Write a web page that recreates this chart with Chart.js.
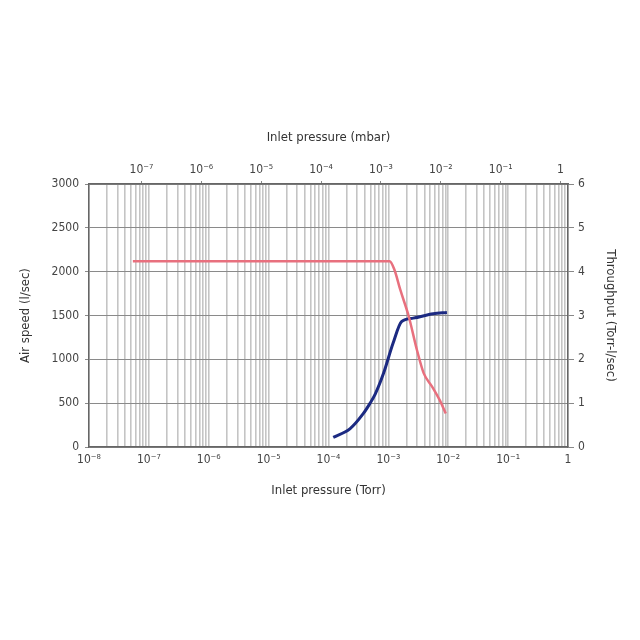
<!DOCTYPE html>
<html>
<head>
<meta charset="utf-8">
<script src="https://cdn.jsdelivr.net/npm/chart.js@4/dist/chart.umd.min.js"></script>
<style>
  html, body { margin: 0; padding: 0; background: #fff; }
  #wrap { width: 640px; height: 640px; }
</style>
</head>
<body>
<div id="wrap"><canvas id="chart" width="640" height="640"></canvas></div>
<script>
// Air speed curve (left axis), inlet pressure in Torr
const speedTorr = [5.4e-8, 1.05e-3, 1.25e-3, 1.58e-3, 2.19e-3, 3.0e-3, 3.9e-3, 5.4e-3, 7.2e-3, 9.1e-3];
const speedLs = [2120, 2120, 2030, 1794, 1489, 1107, 840, 687, 535, 382];

// Throughput curve (right axis)
const throughputTorr = [1.2e-4, 2.3e-4, 3.8e-4, 4.9e-4, 6.0e-4, 8.3e-4, 1.2e-3, 1.66e-3, 2.6e-3, 5.6e-3, 9.5e-3];
const throughput = [0.22, 0.42, 0.76, 0.99, 1.2, 1.68, 2.37, 2.86, 2.94, 3.04, 3.07];

// axis ranges / ticks
const torrDecades = [-8, -7, -6, -5, -4, -3, -2, -1, 0];
const mbarDecades = [-7, -6, -5, -4, -3, -2, -1, 0];
const mbarPerTorr = 1.333;
const speedTicks = [0, 500, 1000, 1500, 2000, 2500, 3000];
const throughputTicks = [0, 1, 2, 3, 4, 5, 6];

const FONT = '"Liberation Sans Narrow", "DejaVu Sans Condensed", Arial, sans-serif';
const SUP = { '-': '⁻', '0': '⁰', '1': '¹', '2': '²', '3': '³', '4': '⁴', '5': '⁵', '6': '⁶', '7': '⁷', '8': '⁸', '9': '⁹' };

function powLabel(e) {
  if (e === 0) return '1';
  return '10' + String(e).split('').map(c => SUP[c]).join('');
}

function isDecade(v) {
  const l = Math.log10(v);
  return Math.abs(l - Math.round(l)) < 1e-6;
}

// all 1..9 x 10^n positions for the grid
const minorTicks = [];
torrDecades.forEach(e => {
  for (let m = 1; m <= 9; m++) {
    if (e === 0 && m > 1) break;
    minorTicks.push(m * Math.pow(10, e));
  }
});

const ctx = document.getElementById('chart').getContext('2d');
new Chart(ctx, {
  type: 'line',
  data: {
    datasets: [
      {
        label: 'Air speed',
        data: speedTorr.map((p, i) => ({ x: p, y: speedLs[i] })),
        xAxisID: 'x',
        yAxisID: 'y',
        borderColor: '#e8707e',
        borderWidth: 2.5,
        pointRadius: 0,
        cubicInterpolationMode: 'monotone'
      },
      {
        label: 'Throughput',
        data: throughputTorr.map((p, i) => ({ x: p, y: throughput[i] })),
        xAxisID: 'x',
        yAxisID: 'y2',
        borderColor: '#1c2a82',
        borderWidth: 3,
        pointRadius: 0,
        cubicInterpolationMode: 'monotone'
      }
    ]
  },
  options: {
    responsive: false,
    animation: false,
    devicePixelRatio: 1,
    layout: { padding: { left: 18, right: 16, top: 130, bottom: 142 } },
    plugins: { legend: { display: false }, tooltip: { enabled: false } },
    scales: {
      x: {
        type: 'logarithmic',
        position: 'bottom',
        min: 1e-8,
        max: 1,
        afterBuildTicks: s => { s.ticks = minorTicks.map(v => ({ value: v })); },
        afterFit: s => { s.height = 51; },
        ticks: {
          autoSkip: false,
          maxRotation: 0,
          color: '#444',
          font: { family: FONT, size: 12 },
          padding: 6,
          callback: v => isDecade(v) ? powLabel(Math.round(Math.log10(v))) : ''
        },
        grid: {
          color: '#c4c4c4',
          lineWidth: 1.6,
          drawTicks: false
        },
        border: { color: '#666', width: 1.5 },
        title: {
          display: true,
          text: 'Inlet pressure (Torr)',
          color: '#333',
          font: { family: FONT, size: 13 },
          padding: { top: 4, bottom: 0 }
        }
      },
      x2: {
        type: 'logarithmic',
        position: 'top',
        min: 1e-8 * mbarPerTorr,
        max: 1 * mbarPerTorr,
        afterBuildTicks: s => { s.ticks = mbarDecades.map(e => ({ value: Math.pow(10, e) })); },
        afterFit: s => { s.height = 54; },
        ticks: {
          autoSkip: false,
          maxRotation: 0,
          color: '#444',
          font: { family: FONT, size: 12 },
          padding: 4,
          callback: v => powLabel(Math.round(Math.log10(v)))
        },
        grid: { drawOnChartArea: false, color: '#888', tickLength: 3 },
        border: { color: '#666', width: 1.5 },
        title: {
          display: true,
          text: 'Inlet pressure (mbar)',
          color: '#333',
          font: { family: FONT, size: 13 },
          padding: { top: 0, bottom: 6 }
        }
      },
      y: {
        position: 'left',
        min: 0,
        max: 3000,
        afterBuildTicks: s => { s.ticks = speedTicks.map(v => ({ value: v })); },
        afterFit: s => { s.width = 71; },
        ticks: {
          color: '#444',
          font: { family: FONT, size: 12 },
          padding: 6,
          callback: v => String(v)
        },
        grid: { color: '#8a8a8a', lineWidth: 1, tickLength: 4 },
        border: { color: '#666', width: 1.5 },
        title: {
          display: true,
          text: 'Air speed (l/sec)',
          color: '#333',
          font: { family: FONT, size: 13 },
          padding: { top: 0, bottom: 6 }
        }
      },
      y2: {
        position: 'right',
        min: 0,
        max: 6,
        afterBuildTicks: s => { s.ticks = throughputTicks.map(v => ({ value: v })); },
        afterFit: s => { s.width = 56; },
        ticks: {
          color: '#444',
          font: { family: FONT, size: 12 },
          padding: 4,
          callback: v => String(v)
        },
        grid: { drawOnChartArea: false, color: '#888', tickLength: 6 },
        border: { color: '#666', width: 1.5 },
        title: {
          display: true,
          text: 'Throughput (Torr-l/sec)',
          color: '#333',
          font: { family: FONT, size: 13 },
          padding: { top: 6, bottom: 0 }
        }
      }
    }
  }
});
</script>
</body>
</html>
